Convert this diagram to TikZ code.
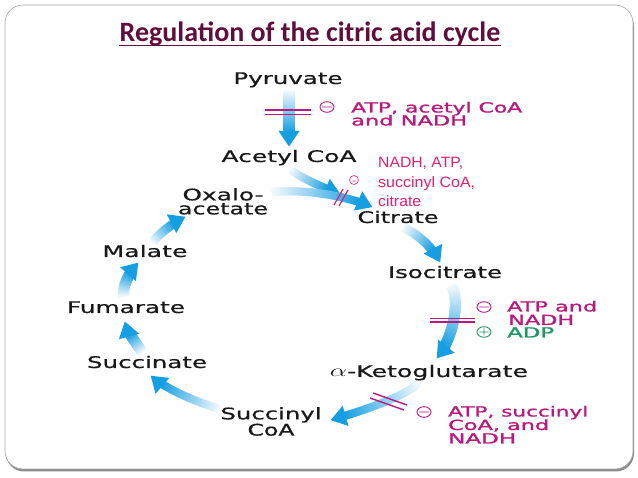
\documentclass[tikz,border=0pt]{standalone}
\usepackage{fontspec}
\usepackage{graphicx}
\usetikzlibrary{decorations.markings}
\newfontfamily\dvs{DejaVu Sans}[FakeBold=0.5]
\newfontfamily\dvm{DejaVu Sans}[FakeBold=1.1]
\newfontfamily\libs{Liberation Sans}
\newfontfamily\carl{Carlito}
\definecolor{abl}{RGB}{22,158,226}
\definecolor{mag}{RGB}{185,25,125}
\definecolor{pinkred}{RGB}{226,32,112}
\definecolor{grn}{RGB}{30,150,100}
\definecolor{titlec}{RGB}{96,14,60}
\newcommand\fitw[2]{\resizebox{#1pt}{\height}{#2}}
\tikzset{
  lbl/.style={inner sep=0pt, anchor=base, text=black!90, font=\dvs\fontsize{16}{14}\selectfont},
  lbl2/.style={lbl, anchor=north, align=center},
  magl/.style={inner sep=0pt, anchor=base west, text=mag, font=\dvm\fontsize{14}{14}\selectfont},
  grnl/.style={magl, text=grn},
  arl/.style={inner sep=0pt, anchor=base west, text=pinkred, font=\libs\fontsize{15}{15}\selectfont},
  inhbar/.style={draw=mag, line width=1.4pt},
  flow/.style={postaction={decorate}, decoration={markings,
    mark=between positions 0 and -13pt step 0.7pt with {%
      \pgfmathsetmacro\pc{min(100,5+95*\pgfkeysvalueof{/pgf/decoration/mark info/distance from start}/(\pgfdecoratedpathlength-13))}%
      \fill[abl!\pc!white] (-0.6pt,-#1*0.5pt) rectangle (0.6pt,#1*0.5pt);},
    mark=at position 1 with {\fill[abl] (0.5pt,0pt) -- (-15pt,10.5pt) -- (-15pt,-10.5pt) -- cycle;}}}
}
\begin{document}
\begin{tikzpicture}[x=1pt,y=-1pt]
\useasboundingbox (0,0) rectangle (638,478);
% frame
\fill[black!45, rounded corners=18pt] (6,8) rectangle (634,471.5);
\draw[black!35, line width=0.6pt, fill=white, rounded corners=18pt] (5,5) rectangle (633,469);
% title
\node[inner sep=0pt, anchor=base, text=titlec, font=\carl\bfseries\fontsize{28}{28}\selectfont] (title) at (310,42) {Regulation of the citric acid cycle};
\draw[titlec, line width=1.8pt] ([shift={(0,3.5)}]title.base west) -- ([shift={(0,3.5)}]title.base east);
% metabolites
\node[lbl] (pyr) at (288,84) {\fitw{109}{Pyruvate}};
\node[lbl] (acoa) at (289,162) {\fitw{135}{Acetyl CoA}};
\node[lbl2] (oxa) at (223,188) {\fitw{81}{Oxalo-}\\\fitw{90}{acetate}};
\node[lbl] (cit) at (398,223) {\fitw{81}{Citrate}};
\node[lbl] (iso) at (445,278) {\fitw{114}{Isocitrate}};
\node[lbl] (akg) at (429,377) {\fitw{198}{$\alpha$-Ketoglutarate}};
\node[lbl2] (scoa) at (271,407) {\fitw{101}{Succinyl}\\\fitw{47}{CoA}};
\node[lbl] (succ) at (147,368) {\fitw{120}{Succinate}};
\node[lbl] (fum) at (126,313) {\fitw{118}{Fumarate}};
\node[lbl] (mal) at (145,257) {\fitw{85}{Malate}};
% arrows
\path[flow=12] ([shift={(1,7)}]pyr.base) -- ([shift={(0,-16)}]acoa.base);
\path[flow=8] ([shift={(2,8)}]acoa.base) .. controls +(12,9) and +(-18,-7) .. ([shift={(-58,-29)}]cit.base);
\path[flow=8] ([shift={(49,4)}]oxa.north) .. controls +(35,-3) and +(-25,-11) .. ([shift={(-26,-16)}]cit.base);
\path[flow=9] ([shift={(6,5)}]cit.base) .. controls +(14,6) and +(-8,-15) .. ([shift={(-5,-16)}]iso.base);
\path[flow=11] ([shift={(7,8)}]iso.base) .. controls +(8,18) and +(16,-20) .. ([shift={(8,-19)}]akg.base);
\path[flow=8] ([shift={(-11,6)}]akg.base) .. controls +(-10,12) and +(35,-10) .. ([shift={(60,13)}]scoa.north);
\path[flow=8] ([shift={(-52,2)}]scoa.north) .. controls +(-25,-8) and +(15,13) .. ([shift={(4,8)}]succ.base);
\path[flow=11] ([shift={(-5,-16)}]succ.base) .. controls +(-6,-9) and +(3,11) .. ([shift={(-1,9)}]fum.base);
\path[flow=11] ([shift={(-2,-17)}]fum.base) .. controls +(-2,-11) and +(-8,9) .. ([shift={(-7,6)}]mal.base);
\path[flow=9] ([shift={(8,-15)}]mal.base) .. controls +(6,-8) and +(-14,7) .. ([shift={(-38,29)}]oxa.north);
% inhibition bars
\draw[inhbar] (265,110) -- (311,110) (265,114.5) -- (311,114.5);
\draw[draw=pinkred, line width=1.2pt] (334,205) -- (343,189) (339,206) -- (348,190);
\draw[inhbar] (430,318.3) -- (475,318.3) (430,322) -- (475,322);
\draw[inhbar] (373,393) -- (407,405) (370,398) -- (404,410);
% effector labels
\draw[mag, line width=0.9pt] (327,107) ellipse [x radius=7, y radius=5.3] (322,107) -- (332,107);
\node[magl] (m1a) at (351,112.5) {\fitw{171}{ATP, acetyl CoA}};
\node[magl] (m1b) at (351,125.5) {\fitw{116}{and NADH}};
\draw[pinkred, line width=0.6pt] (354,180) circle [radius=4.5] (352.3,181) -- (355.7,181);
\node[arl] (r1) at (378,168) {\fitw{85}{NADH, ATP,}};
\node[arl] (r2) at (378,188) {\fitw{97}{succinyl CoA,}};
\node[arl] (r3) at (378,206.5) {\fitw{43}{citrate}};
\draw[mag, line width=0.9pt] (484,307) ellipse [x radius=7, y radius=5.3] (479,307) -- (489,307);
\node[magl] (m2a) at (507,311.5) {\fitw{90}{ATP and}};
\node[magl] (m2b) at (508,325) {\fitw{66}{NADH}};
\draw[grn, line width=0.9pt] (484,332) ellipse [x radius=7, y radius=5.3] (479,332) -- (489,332) (484,328.5) -- (484,335.5);
\node[grnl] (g2) at (507,337.5) {\fitw{47}{ADP}};
\draw[mag, line width=0.9pt] (424,412) ellipse [x radius=7, y radius=5.3] (419,412) -- (429,412);
\node[magl] (m3a) at (448,416.5) {\fitw{140}{ATP, succinyl}};
\node[magl] (m3b) at (448,430) {\fitw{101}{CoA, and}};
\node[magl] (m3c) at (448,443.5) {\fitw{68}{NADH}};
\end{tikzpicture}
\end{document}
